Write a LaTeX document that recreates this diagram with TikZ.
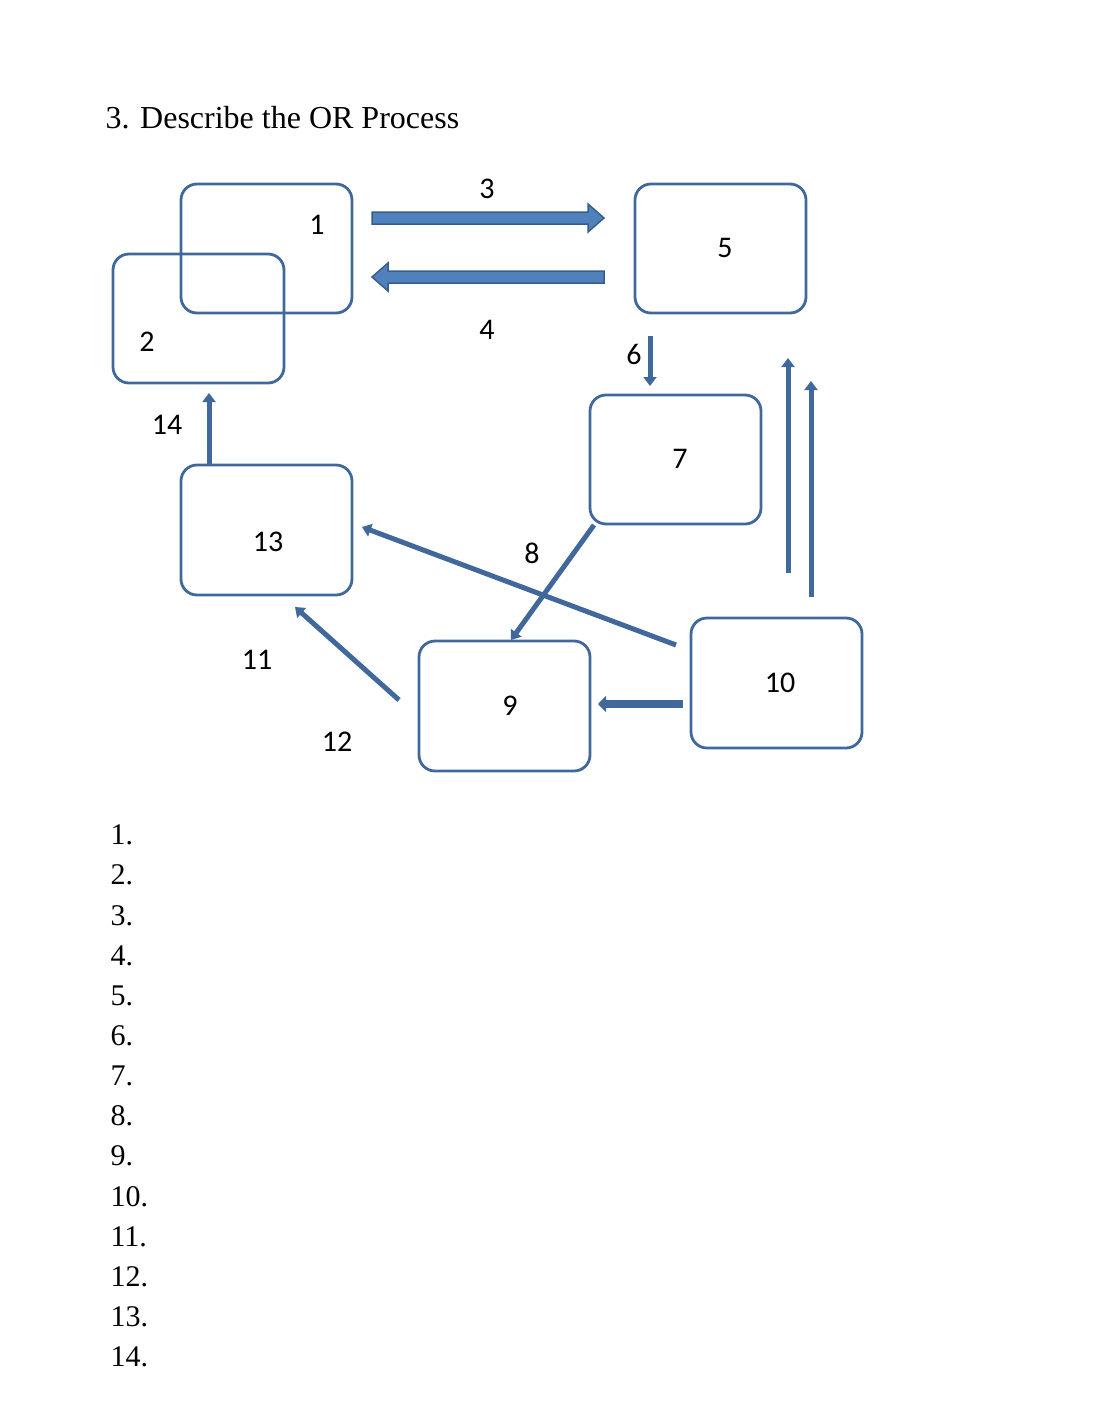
\documentclass[tikz,border=0pt]{standalone}
\usepackage{fontspec}
\setmainfont{Liberation Serif}
\newfontfamily\carlitofont{Carlito}
\usetikzlibrary{arrows.meta}
\definecolor{bl}{HTML}{41689A}
\definecolor{bf}{HTML}{4F81BD}
\definecolor{bd}{HTML}{385D8A}
\begin{document}
\begin{tikzpicture}[x=1pt,y=-1pt,
  bx/.style={draw=bl,line width=2.8pt,rounded corners=16pt},
  lb/.style={font=\carlitofont\fontsize{30}{30}\selectfont},
  ar/.style={draw=bl,line width=5pt,-{Triangle[length=9pt,width=13pt]}},
  blk/.style={fill=bf,draw=bd,line width=1.5pt}]
\useasboundingbox (0,0) rectangle (1114,1419);
\node[anchor=west,font=\fontsize{32}{32}\selectfont] (t) at (102,118) {3. Describe the OR Process};
\draw[bx] (181,184) rectangle (352,313);
\draw[bx] (113,254) rectangle (284,383);
\draw[bx] (635,184) rectangle (806,313);
\draw[bx] (590,395) rectangle (761,524);
\draw[bx] (181,465) rectangle (352,595);
\draw[bx] (419,641) rectangle (590,771);
\draw[bx] (691,618) rectangle (862,748);
\node[lb] (n1) at (317,225) {1};
\node[lb] (n2) at (147,342) {2};
\node[lb] (n5) at (725,248) {5};
\node[lb] (n7) at (680,459) {7};
\node[lb] (n13) at (268,542) {13};
\node[lb] (n9) at (510,706) {9};
\node[lb] (n10) at (780,683) {10};
\node[lb] (l3) at (487,189) {3};
\node[lb] (l4) at (487,330) {4};
\node[lb] (l6) at (634,354) {6};
\node[lb] (l14) at (167,425) {14};
\node[lb] (l8) at (532,553) {8};
\node[lb] (l11) at (257,660) {11};
\node[lb] (l12) at (337,742) {12};
\path[blk] (372,212) -- (588,212) -- (588,204) -- (604,218) -- (588,232) -- (588,224) -- (372,224) -- cycle;
\path[blk] (604,271) -- (388,271) -- (388,263) -- (372,277) -- (388,291) -- (388,283) -- (604,283) -- cycle;
\coordinate (a6) at (650,336); \coordinate (b6) at (650,386);
\draw[ar] (a6) -- (b6);
\coordinate (a1) at (788,573); \coordinate (b1) at (788,358);
\draw[ar] (a1) -- (b1);
\coordinate (a2) at (811,597); \coordinate (b2) at (811,381);
\draw[ar] (a2) -- (b2);
\coordinate (a14) at (209,465); \coordinate (b14) at (209,393);
\draw[ar] (a14) -- (b14);
\coordinate (a8) at (594,525); \coordinate (b8) at (511,640);
\draw[ar] (a8) -- (b8);
\coordinate (a10) at (676,645); \coordinate (b10) at (362,527);
\draw[ar] (a10) -- (b10);
\coordinate (a12) at (399,700); \coordinate (b12) at (295,607);
\draw[ar] (a12) -- (b12);
\coordinate (a9) at (683,704); \coordinate (b9) at (598,704);
\draw[ar,line width=8pt,-{Triangle[length=8pt,width=16pt]}] (a9) -- (b9);
\foreach \i in {1,...,14}{
  \node[anchor=west,font=\fontsize{30}{30}\selectfont] (li\i) at (107,{835+40.15*(\i-1)}) {\i.};
}
\end{tikzpicture}
\end{document}
